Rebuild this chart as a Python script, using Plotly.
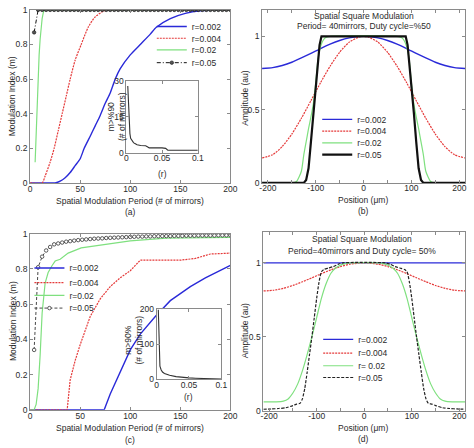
import plotly.graph_objects as go

# ---------------- data ----------------
# (a) modulation index vs period
a_x_blue = [0, 10, 20, 25, 30, 35, 40, 45, 50, 54, 60, 65, 70, 75, 80, 85, 90, 100, 110, 120, 126, 140, 155, 170, 185, 200]
a_blue = [0, 0, 0, 0.0, 0.01, 0.03, 0.06, 0.1, 0.14, 0.2, 0.27, 0.33, 0.39, 0.46, 0.52, 0.6, 0.66, 0.74, 0.8, 0.86, 0.9, 0.95, 0.98, 0.995, 0.999, 1.0]
a_x_red = [0, 12, 15, 20, 24, 28, 32, 36, 40, 45, 51, 58, 65, 74, 80, 200]
a_red = [0, 0, 0.04, 0.12, 0.2, 0.3, 0.4, 0.5, 0.6, 0.71, 0.8, 0.9, 0.96, 0.995, 1.0, 1.0]
a_x_green = [5, 6, 7, 8, 9, 10, 11, 12, 13, 14, 200]
a_green = [0.12, 0.3, 0.48, 0.62, 0.74, 0.83, 0.9, 0.95, 0.98, 1.0, 1.0]
a_x_black = [4, 8, 12, 16, 20, 24, 28, 32, 36, 40, 44, 48, 52, 56, 60, 64, 68, 72, 76, 80,
             84, 88, 92, 96, 100, 104, 108, 112, 116, 120, 124, 128, 132, 136, 140, 144, 148,
             152, 156, 160, 164, 168, 172, 176, 180, 184, 188, 192, 196, 200]
a_black = [0.87, 1, 1, 1, 1, 1, 1, 1, 1, 1, 1, 1, 1, 1, 1, 1, 1, 1, 1, 1,
           1, 1, 1, 1, 1, 1, 1, 1, 1, 1, 1, 1, 1, 1, 1, 1, 1,
           1, 1, 1, 1, 1, 1, 1, 1, 1, 1, 1, 1, 1]
# (a) inset
ai_r = [0.002, 0.003, 0.004, 0.005, 0.006, 0.008, 0.01, 0.012, 0.015, 0.02, 0.025, 0.027, 0.03, 0.032, 0.05, 0.055, 0.058, 0.1]
ai_n = [28, 20, 12, 8, 6, 4.8, 4.2, 3.8, 3.3, 3, 3, 2.9, 2.4, 2, 2, 1.8, 1, 1]

# (b) amplitude vs position
b_x = [-212, -190, -170, -150, -130, -110, -90, -70, -50, -30, -10, 0, 10, 30, 50, 70, 90, 110, 130, 150, 170, 190, 212]
b_blue = [0.78, 0.786, 0.801, 0.823, 0.852, 0.883, 0.916, 0.946, 0.971, 0.989, 0.999, 1.0, 0.999, 0.989, 0.971, 0.946, 0.916, 0.883, 0.852, 0.823, 0.801, 0.786, 0.78]
b_red = [0.17, 0.192, 0.248, 0.333, 0.441, 0.561, 0.683, 0.796, 0.891, 0.96, 0.995, 1.0, 0.995, 0.96, 0.891, 0.796, 0.683, 0.561, 0.441, 0.333, 0.248, 0.192, 0.17]
b_x_green = [-212, -150, -140, -130, -125, -120, -115, -110, -105, -100, -95, -90, -85, -80, -70,
             70, 80, 85, 90, 95, 100, 105, 110, 115, 120, 125, 130, 140, 150, 212]
b_green = [0, 0, 0.01, 0.08, 0.19, 0.28, 0.37, 0.45, 0.54, 0.68, 0.85, 0.93, 0.97, 0.99, 1,
           1, 0.99, 0.97, 0.93, 0.85, 0.68, 0.54, 0.45, 0.37, 0.28, 0.19, 0.08, 0.01, 0, 0]
b_x_black = [-212, -125, -120, -115, -110, -105, -100, -95, -92, -88, 88, 92, 95, 100, 105, 110, 115, 120, 125, 212]
b_black = [0, 0, 0.02, 0.1, 0.28, 0.48, 0.66, 0.84, 0.94, 1, 1, 0.94, 0.84, 0.66, 0.48, 0.28, 0.1, 0.02, 0, 0]

# (c) modulation index vs period
c_x_blue = [0, 74, 80, 90, 100, 110, 125, 140, 150, 160, 175, 190, 200]
c_blue = [0, 0, 0.09, 0.22, 0.34, 0.43, 0.53, 0.62, 0.66, 0.7, 0.75, 0.79, 0.82]
c_x_red = [0, 37, 40, 45, 50, 55, 60, 70, 80, 90, 100, 110, 120, 150, 165, 180, 200]
c_red = [0, 0, 0.17, 0.28, 0.37, 0.45, 0.53, 0.63, 0.7, 0.75, 0.79, 0.85, 0.85, 0.85, 0.86, 0.885, 0.89]
c_x_green = [0, 4, 6, 8, 10, 12, 15, 18, 22, 25, 30, 38, 51, 70, 100, 136, 200]
c_green = [0, 0, 0.03, 0.12, 0.31, 0.55, 0.72, 0.78, 0.82, 0.845, 0.855, 0.89, 0.92, 0.935, 0.96, 0.975, 0.98]
c_x_black = a_x_black
c_black = [0.34, 0.81, 0.87, 0.905, 0.925, 0.94, 0.945, 0.95, 0.955, 0.958, 0.961, 0.964, 0.966, 0.968, 0.97, 0.972, 0.973, 0.974, 0.976, 0.977,
           0.978, 0.979, 0.98, 0.981, 0.982, 0.983, 0.984, 0.984, 0.985, 0.985, 0.986, 0.986, 0.987, 0.987, 0.987, 0.988, 0.988,
           0.988, 0.989, 0.989, 0.989, 0.99, 0.99, 0.99, 0.99, 0.99, 0.991, 0.991, 0.991, 0.991]
# (c) inset
ci_r = [0.0025, 0.003, 0.0035, 0.004, 0.005, 0.007, 0.009, 0.012, 0.015, 0.02, 0.03, 0.04, 0.05, 0.06, 0.07, 0.08, 0.09, 0.1]
ci_n = [198, 150, 80, 50, 38, 27, 21, 17, 15, 12, 8, 5.5, 4.5, 3.5, 2.8, 2, 1.5, 1]

# (d) amplitude vs position
d_x_blue = [-212, 212]
d_blue = [1, 1]
d_red = [0.81, 0.815, 0.828, 0.847, 0.872, 0.899, 0.927, 0.953, 0.975, 0.991, 0.999, 1.0, 0.999, 0.991, 0.975, 0.953, 0.927, 0.899, 0.872, 0.847, 0.828, 0.815, 0.81]
d_x_green = [-212, -185, -170, -160, -150, -140, -130, -120, -110, -100, -90, -80, -70, -60, -50, -40, -30,
             30, 40, 50, 60, 70, 80, 90, 100, 110, 120, 130, 140, 150, 160, 170, 185, 212]
d_green = [0.06, 0.06, 0.065, 0.08, 0.12, 0.18, 0.27, 0.38, 0.5, 0.63, 0.76, 0.86, 0.93, 0.965, 0.985, 0.995, 1,
           1, 0.995, 0.985, 0.965, 0.93, 0.86, 0.76, 0.63, 0.5, 0.38, 0.27, 0.18, 0.12, 0.08, 0.065, 0.06, 0.06]
d_x_black = [-212, -195, -180, -165, -150, -142, -135, -130, -125, -120, -115, -110, -105, -100, -95, -90, -85, -75, -65, -55, -45,
             45, 55, 65, 75, 85, 90, 95, 100, 105, 110, 115, 120, 125, 130, 135, 142, 150, 165, 180, 195, 212]
d_black = [0.01, 0.012, 0.015, 0.02, 0.035, 0.045, 0.05, 0.08, 0.15, 0.26, 0.38, 0.5, 0.63, 0.76, 0.87, 0.94, 0.955, 0.965, 0.975, 0.99, 1,
           1, 0.99, 0.975, 0.965, 0.955, 0.94, 0.87, 0.76, 0.63, 0.5, 0.38, 0.26, 0.15, 0.08, 0.05, 0.045, 0.035, 0.02, 0.015, 0.012, 0.01]

names_a = ["r=0.002", "r=0.004", "r=0.02", "r=0.05"]
names_d = ["r=0.002", "r=0.004", "r= 0.02", "r=0.05"]

# ---------------- style ----------------
FONT = "Liberation Sans, Arial, sans-serif"
TXT = "#2a2a2a"
AX = "#8a8a8a"
BLUE = "#2a2ad8"
RED = "#e53a3a"
GREEN = "#7fe07f"
BLACK = "#111111"
W, H = 474, 448
FS = 8.5


def fx(p):
    return p / W


def fy(p):
    return 1 - p / H


# one single-entry legend per series so rows can be spaced like the original
# (text start x in px, row centre y in px)
LEG_ROWS = {
    "a": (192, [22, 34, 46, 59]),
    "b": (361, [117, 129, 141, 153]),
    "c": (67, [269, 284, 297, 310]),
    "d": (362, [342, 356, 369, 381]),
}
legend_layouts = {}
_leg_count = [0]


def next_legend(panel, row):
    _leg_count[0] += 1
    n = _leg_count[0]
    key = "legend" if n == 1 else "legend%d" % n
    tx, rows = LEG_ROWS[panel]
    legend_layouts[key] = dict(
        x=fx(tx - 40), y=fy(rows[row]), xanchor="left", yanchor="middle",
        bgcolor="rgba(0,0,0,0)", borderwidth=0, itemwidth=30,
        font=dict(size=FS, color=TXT, family=FONT))
    return key


fig = go.Figure()


def add(x, y, xa, ya, name, color, width=1.2, dash=None, panel=None, row=None, shape="spline",
        mode="lines", marker=None):
    show = panel is not None
    fig.add_trace(go.Scatter(
        x=x, y=y, xaxis=xa, yaxis=ya, name=name, mode=mode,
        line=dict(color=color, width=width, dash=dash, shape=shape,
                  smoothing=0.6 if shape == "spline" else None),
        marker=marker, showlegend=show,
        legend=next_legend(panel, row) if show else None))


# (a)
add(a_x_blue, a_blue, "x", "y", names_a[0], BLUE, 1.4, panel="a", row=0)
add(a_x_red, a_red, "x", "y", names_a[1], RED, 1.2, "2px,1px", panel="a", row=1)
add(a_x_green, a_green, "x", "y", names_a[2], GREEN, 1.2, panel="a", row=2, shape="linear")
add(a_x_black, a_black, "x", "y", names_a[3], BLACK, 1, "4px,2px,1px,2px", panel="a", row=3, shape="linear",
    mode="lines+markers", marker=dict(symbol="circle", size=3.5, color="#555", line=dict(color=BLACK, width=0.6)))
# (b)
add(b_x, b_blue, "x2", "y2", names_a[0], BLUE, 1.4, panel="b", row=0)
add(b_x, b_red, "x2", "y2", names_a[1], RED, 1.2, "2px,1px", panel="b", row=1)
add(b_x_green, b_green, "x2", "y2", names_a[2], GREEN, 1.2, panel="b", row=2)
add(b_x_black, b_black, "x2", "y2", names_a[3], BLACK, 2.2, panel="b", row=3, shape="linear")
# (c)
add(c_x_blue, c_blue, "x3", "y3", names_a[0], BLUE, 1.4, panel="c", row=0, shape="linear")
add(c_x_red, c_red, "x3", "y3", names_a[1], RED, 1.2, "2px,1px", panel="c", row=1, shape="linear")
add(c_x_green, c_green, "x3", "y3", names_a[2], GREEN, 1.2, panel="c", row=2, shape="linear")
add(c_x_black, c_black, "x3", "y3", names_a[3], "#333", 0.9, "3px,2px", panel="c", row=3, shape="linear",
    mode="lines+markers", marker=dict(symbol="circle", size=3.5, color="white", line=dict(color="#333", width=0.8)))
# (d)
add(d_x_blue, d_blue, "x4", "y4", names_d[0], BLUE, 1.4, panel="d", row=0, shape="linear")
add(b_x, d_red, "x4", "y4", names_d[1], RED, 1.2, "2px,1px", panel="d", row=1)
add(d_x_green, d_green, "x4", "y4", names_d[2], GREEN, 1.2, panel="d", row=2)
add(d_x_black, d_black, "x4", "y4", names_d[3], "#222", 1.2, "3px,1.5px", panel="d", row=3)
# insets
add(ai_r, ai_n, "x5", "y5", "inset a", "#333", 1.1, shape="linear")
add(ci_r, ci_n, "x6", "y6", "inset c", "#333", 1.1, shape="linear")


def ax(**kw):
    d = dict(showline=True, linecolor=AX, linewidth=1, mirror="ticks", ticks="inside", ticklen=3,
             tickcolor=AX, showgrid=False, zeroline=False, fixedrange=True,
             tickfont=dict(size=FS, color=TXT, family=FONT))
    d.update(kw)
    return d


per_ticks = [0, 50, 100, 150, 200]
pos_ticks = [-200, -150, -100, -50, 0, 50, 100, 150, 200]
pos_text = ["-200", "", "-100", "", "0", "", "100", "", "200"]

layout = dict(
    width=W, height=H, margin=dict(l=0, r=0, t=0, b=0),
    paper_bgcolor="white", plot_bgcolor="white",
    font=dict(family=FONT, size=FS, color=TXT),
    xaxis=ax(domain=[fx(27.7), fx(232.3)], anchor="y", range=[0, 200], tickvals=per_ticks, ticklabelstandoff=-2),
    yaxis=ax(domain=[fy(182), fy(5)], anchor="x", range=[0, 1], tickvals=[0, 0.2, 0.4, 0.6, 0.8, 1]),
    xaxis2=ax(domain=[fx(264.7), fx(472)], anchor="y2", range=[-212, 212], tickvals=pos_ticks, ticktext=pos_text,
              ticklabelstandoff=-3),
    yaxis2=ax(domain=[fy(182), fy(5)], anchor="x2", range=[0, 1.18], tickvals=[0, 0.5, 1]),
    xaxis3=ax(domain=[fx(27.7), fx(232.3)], anchor="y3", range=[0, 200], tickvals=per_ticks, ticklabelstandoff=-2),
    yaxis3=ax(domain=[fy(414), fy(234)], anchor="x3", range=[0, 1], tickvals=[0, 0.2, 0.4, 0.6, 0.8, 1]),
    xaxis4=ax(domain=[fx(266), fx(472)], anchor="y4", range=[-212, 212], tickvals=pos_ticks, ticktext=pos_text,
              ticklabelstandoff=-3),
    yaxis4=ax(domain=[fy(415), fy(232)], anchor="x4", range=[0, 1.21], tickvals=[0, 0.5, 1]),
    xaxis5=ax(domain=[fx(126), fx(199)], anchor="y5", range=[0, 0.1], tickvals=[0, 0.05, 0.1], ticklabelstandoff=-3),
    yaxis5=ax(domain=[fy(151), fy(78)], anchor="x5", range=[0, 30], tickvals=[0, 15, 30]),
    xaxis6=ax(domain=[fx(157), fx(223)], anchor="y6", range=[0, 0.1], tickvals=[0, 0.05, 0.1], ticklabelstandoff=-3),
    yaxis6=ax(domain=[fy(383), fy(311)], anchor="x6", range=[0, 200], tickvals=[0, 100, 200]),
)
layout.update(legend_layouts)
fig.update_layout(**layout)


def note(text, x, y, angle=0, size=FS):
    fig.add_annotation(text=text, x=fx(x), y=fy(y), xref="paper", yref="paper", showarrow=False,
                       xanchor="center", yanchor="middle", textangle=angle,
                       font=dict(size=size, color=TXT, family=FONT))


note("Modulation Index (m)", 9.5, 93, -90)
note("Modulation Index (m)", 9.5, 323, -90)
note("Amplitude (au)", 247, 95, -90)
note("Amplitude (au)", 247, 333, -90)
note("Spatial Modulation Period (# of mirrors)", 130, 200)
note("Spatial Modulation Period (# of mirrors)", 130, 433)
note("Position (μm)", 368, 199)
note("Position (μm)", 368, 433)
note("(a)", 130, 212)
note("(b)", 368, 211)
note("(c)", 130, 445)
note("(d)", 368, 444)
note("Spatial Square Modulation", 369, 11)
note("Period= 40mirrors, Duty cycle=%50", 369, 21)
note("Spatial Square Modulation", 367, 239)
note("Period=40mirrors and Duty cycle= 50%", 367, 252)
note("m>%90<br>(# of mirrors)", 116, 114, -90)
note("(r)", 163, 173)
note("m>90%<br>(# of mirrors)", 133, 343, -90)
note("(r)", 190, 401)

fig.write_html("out.html")
